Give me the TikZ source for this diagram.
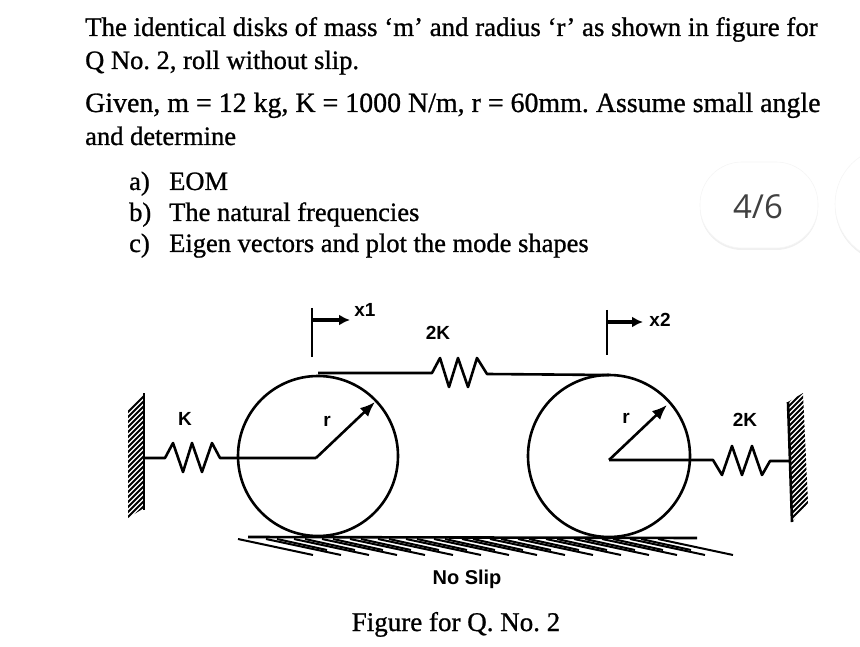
\documentclass[tikz,border=0pt]{standalone}
\usepackage{fontspec}
\setmainfont{Liberation Serif}
\setsansfont{Liberation Sans}
\newfontfamily\badgefont{Open Sans}
\usetikzlibrary{arrows.meta,shadows}
\tikzset{
 qtext/.style={anchor=base west,inner sep=0pt,font=\fontsize{#1}{#1}\selectfont\addfontfeature{FakeBold=0.9}},
 qtext/.default=26.5,
 figlabel/.style={font=\sffamily\bfseries\fontsize{19}{19}\selectfont,inner sep=0pt},
 wire/.style={black,line width=2.6pt,line join=round},
 hatchline/.style={black,line width=1.8pt},
 streak/.style={black,line width=2pt},
 bigtip/.style={-{Latex[length=15pt,width=12pt]}},
 marktip/.style={line width=3.2pt,-{Latex[length=11pt,width=11pt]}},
 pagebadge/.style={fill=white,draw=black!4,line width=0.6pt,drop shadow={shadow xshift=0pt,shadow yshift=-2pt,opacity=0.12}}
}
\frenchspacing
\begin{document}
\begin{tikzpicture}[x=1pt,y=-1pt]
 \useasboundingbox (0,0) rectangle (860,647);
 % question text
 \node[qtext=26.85] (l1) at (85,36) {The identical disks of mass ‘m’ and radius ‘r’ as shown in figure for};
 \node[qtext] (l2) at (85,69) {Q No. 2, roll without slip.};
 \node[qtext=27.9] (l3) at (85,112) {Given, m = 12 kg, K = 1000 N/m, r = 60mm. Assume small angle};
 \node[qtext] (l4) at (85,145) {and determine};
 \node[qtext] (a) at (129,190) {a)};
 \node[qtext] (b) at (129,221) {b)};
 \node[qtext] (c) at (129,252) {c)};
 \node[qtext] (ta) at (169,190) {EOM};
 \node[qtext] (tb) at (169,221) {The natural frequencies};
 \node[qtext] (tc) at (169,252) {Eigen vectors and plot the mode shapes};
 % page badge
 \fill[pagebadge,rounded corners=42pt] (700,162) rectangle (818,248);
 \node[font=\badgefont\fontsize{33}{33}\selectfont,black!75] (page) at (758,207) {4/6};
 \fill[pagebadge] (892,204) circle (57);
 % walls
 \begin{scope}
  \clip (128,410) -- (144,393) -- (144,508) -- (128,518) -- cycle;
  \foreach \y in {395,400,...,550}
   \draw[hatchline] (120,\y) -- (150,\y-30);
 \end{scope}
 \begin{scope}
  \clip (788,402) -- (803,393) -- (808,503) -- (792,522) -- cycle;
  \foreach \y in {395,400,...,550}
   \draw[hatchline] (780,\y) -- (815,\y-35);
 \end{scope}
 \coordinate (wallL) at (144,458);
 \coordinate (wallR) at (789,461);
 \draw[wire] (144,393) -- (144,510);
 \draw[wire] (788,402) -- (792,522);
 % disks
 \coordinate (c1) at (318,456);
 \coordinate (c2) at (609,456);
 \coordinate (o1) at (316,458);
 \coordinate (o2) at (609,460);
 \coordinate (t1) at (318,373);
 \coordinate (t2) at (609,375);
 \draw[wire] (c1) circle (80);
 \draw[wire] (c2) circle (81);
 % radius arrows
 \coordinate (r1) at (375,402);
 \coordinate (r2) at (667,405);
 \draw[wire,bigtip] (o1) -- (r1);
 \draw[wire,bigtip] (o2) -- (r2);
 \node[figlabel] (rl1) at (327,421) {r};
 \node[figlabel] (rl2) at (626,418) {r};
 % spring K
 \coordinate (s1) at (165,458);
 \coordinate (s2) at (220,458);
 \draw[wire] (wallL) -- (s1) -- (173,443) -- (183,472) -- (192,443) -- (202,472) -- (212,443) -- (s2) -- (o1);
 \node[figlabel] (k) at (185,419) {K};
 % spring 2K top
 \coordinate (s3) at (432,373);
 \coordinate (s4) at (487,374);
 \draw[wire] (t1) -- (s3) -- (440,358) -- (449,387) -- (458,358) -- (468,387) -- (477,358) -- (s4) -- (t2);
 \node[figlabel] (k2a) at (438,333) {2K};
 % spring 2K right
 \coordinate (s5) at (713,460);
 \coordinate (s6) at (770,461);
 \draw[wire] (o2) -- (s5) -- (722,475) -- (732,446) -- (742,475) -- (752,446) -- (762,475) -- (s6) -- (wallR);
 \node[figlabel] (k2b) at (745,420) {2K};
 % displacement markers
 \coordinate (m1) at (312,320);
 \coordinate (m2) at (607,322);
 \draw[wire] (312,308) -- (312,357);
 \draw[wire] (607,310) -- (607,355);
 \draw[marktip] (m1) -- (350,320);
 \draw[marktip] (m2) -- (643,322);
 \node[figlabel] (x1) at (365,310) {x1};
 \node[figlabel] (x2) at (660,320) {x2};
 % ground
 \draw[wire] (248,537) -- (697,538);
 \foreach \x in {313,341,...,733}
  \draw[streak] (\x-75,539) -- (\x,555);
 \foreach \x in {327,355,...,691}
  \draw[streak] (\x-50,539) -- (\x,550);
 \node[figlabel,font=\sffamily\bfseries\fontsize{20}{20}\selectfont] (slip) at (467,579) {No Slip};
 \node[qtext=27,anchor=base] (fig) at (456,631) {Figure for Q. No. 2};
\end{tikzpicture}
\end{document}
